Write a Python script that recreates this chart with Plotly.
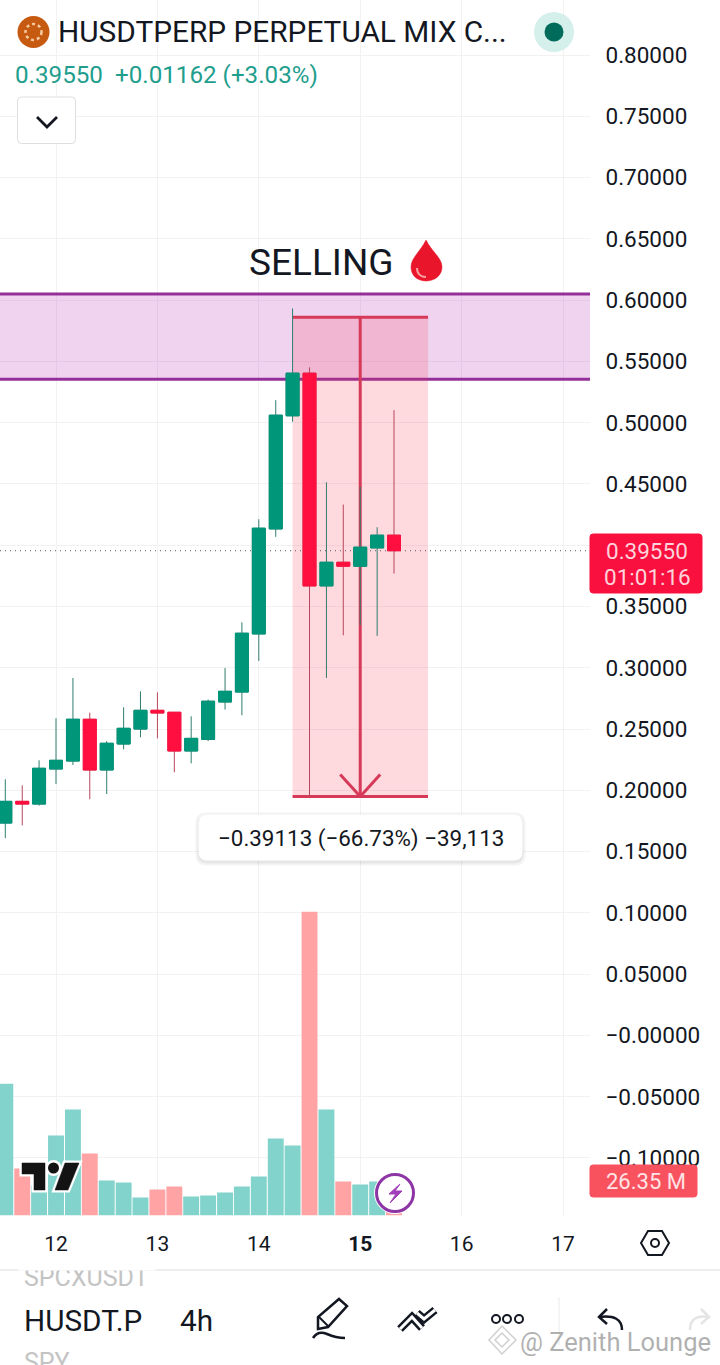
import plotly.graph_objects as go

W = 720
H = 1365

# 4h bars, x is in days of the month
bar_day = [11.5, 11.667, 11.833, 12, 12.167, 12.333, 12.5, 12.667, 12.833, 13, 13.167, 13.333,
           13.5, 13.667, 13.833, 14, 14.167, 14.333, 14.5, 14.667, 14.833, 15, 15.167, 15.333]
bar_open = [.1733, .1910, .1888, .2174, .2239, .2580, .2166, .2378, .2500, .2653, .2637, .2321,
            .2416, .2721, .2802, .3276, .4133, .5056, .5404, .3668, .3861, .3829, .3978, .4082]
bar_close = [.1910, .1888, .2180, .2245, .2580, .2166, .2384, .2506, .2653, .2631, .2321, .2424,
             .2727, .2808, .3282, .4139, .5061, .5404, .3668, .3861, .3829, .3984, .4082, .3955]
bar_high = [.2090, .2041, .2245, .2588, .2917, .2634, .2402, .2678, .2808, .2800, .2637, .2604,
            .2740, .2998, .3371, .4212, .5184, .5932, .5451, .4514, .4332, .4476, .4147, .5102]
bar_low = [.1610, .1714, .1875, .2051, .2207, .1927, .1970, .2335, .2433, .2424, .2147, .2220,
           .2402, .2659, .2612, .3056, .4068, .5007, .1943, .2917, .3265, .3347, .3260, .3769]
volume_m = [100.6, 35.9, 22.9, 61.1, 81.0, 47.4, 26.7, 25.2, 13.7, 19.9, 22.2, 14.5,
            15.3, 17.6, 22.2, 29.8, 58.8, 53.5, 232.0, 81.0, 26.0, 23.7, 26.0, 26.35]

price_ticks = [.8, .75, .7, .65, .6, .55, .5, .45, .4, .35, .3, .25, .2, .15, .1, .05, 0, -.05, -.1]
price_labels = ["0.80000", "0.75000", "0.70000", "0.65000", "0.60000", "0.55000", "0.50000",
                "0.45000", "", "0.35000", "0.30000", "0.25000", "0.20000", "0.15000", "0.10000",
                "0.05000", "\u22120.00000", "\u22120.05000", "\u22120.10000"]
day_ticks = [12, 13, 14, 15, 16, 17]
day_labels = ["12", "13", "14", "<b>15</b>", "16", "17"]

x_range = [11.4477, 17.266]
y_range = [-.14694, .84490]
zone_top = .605
zone_bottom = .5355
measure_top = .5861
measure_bottom = .1950
measure_left = 14.333
measure_right = 15.669
measure_mid = 15
last_price = .3955

GREEN = "#00967A"
RED = "#FF0F3F"
FONT = "Roboto"
INK = "#131722"


def px(x):
    return x / W


def py(y):
    return 1 - y / H


def pth(s):
    # pixel path -> paper path, only absolute M L C Q Z
    out = []
    is_x = True
    for tok in s.split():
        if tok.isalpha():
            out.append(tok)
        else:
            out.append(str(round(px(float(tok)) if is_x else py(float(tok)), 5)))
            is_x = not is_x
    return " ".join(out)


def rounded(x0, y0, x1, y1, r):
    return pth(f"M {x0+r} {y0} L {x1-r} {y0} Q {x1} {y0} {x1} {y0+r} L {x1} {y1-r} Q {x1} {y1} {x1-r} {y1} "
               f"L {x0+r} {y1} Q {x0} {y1} {x0} {y1-r} L {x0} {y0+r} Q {x0} {y0} {x0+r} {y0} Z")


shapes = []


def icon(s, color=INK, width=2.5, fill=None):
    shapes.append(dict(type="path", xref="paper", yref="paper", path=pth(s), fillcolor=fill,
                       line=dict(color=color, width=width)))


def box(x0, y0, x1, y1, r, fill, line=None, width=1, opacity=1):
    shapes.append(dict(type="path", xref="paper", yref="paper", path=rounded(x0, y0, x1, y1, r),
                       fillcolor=fill, opacity=opacity, line=dict(color=line or fill, width=width)))


def circle(cx, cy, r, fill=None, line=None, width=0, dash=None):
    shapes.append(dict(type="circle", xref="paper", yref="paper", x0=px(cx - r), x1=px(cx + r),
                       y0=py(cy + r), y1=py(cy - r), fillcolor=fill,
                       line=dict(color=line or "rgba(0,0,0,0)", width=width, dash=dash)))


notes = []


def note(x, y, text, size, color=INK, anchor="left", **kw):
    # annotations sit about 2px right of the x they are given
    if anchor == "left":
        x = x - 2
    notes.append(dict(xref="paper", yref="paper", x=px(x), y=py(y), text=text, showarrow=False,
                      xanchor=anchor, yanchor="middle", font=dict(family=FONT, size=size, color=color), **kw))


# chart drawings, in data coordinates, under the candles
def drawn(kind, x0, x1, y0, y1, **kw):
    shapes.append(dict(type=kind, xref="x", yref="y", x0=x0, x1=x1, y0=y0, y1=y1, layer="between", **kw))


drawn("rect", x_range[0], x_range[1], zone_bottom, zone_top,
      fillcolor="rgba(179,45,179,0.21)", line=dict(width=0))
for z in (zone_top, zone_bottom):
    drawn("line", x_range[0], x_range[1], z, z, line=dict(color="#93309A", width=3))
drawn("rect", measure_left, measure_right, measure_bottom, measure_top,
      fillcolor="rgba(248,50,80,0.18)", line=dict(width=0))
for m in (measure_top, measure_bottom):
    drawn("line", measure_left, measure_right, m, m, line=dict(color="#D63A58", width=3))
drawn("line", measure_mid, measure_mid, measure_bottom, measure_top, line=dict(color="#D63A58", width=3))
for side in (-.197, .197):
    drawn("line", measure_mid + side, measure_mid, measure_bottom + .018, measure_bottom,
          line=dict(color="#D63A58", width=3))
drawn("line", x_range[0], x_range[1], last_price, last_price, line=dict(color="#555555", width=1, dash="1px,4px"))

# header
circle(33.5, 32, 16, fill="#C65A11")
circle(33.5, 32, 8, line="#F6CBA2", width=2.5, dash="dot")
note(58, 31, "HUSDTPERP PERPETUAL MIX C...", 29.8)
circle(554, 32, 20, fill="#D5EFEB")
circle(554, 32, 9.5, fill="#006B5A")
note(15, 75, "0.39550&#160;&#160;+0.01162 (+3.03%)", 24.2, color="#1F9E8E")
box(17.5, 97, 75.5, 143.5, 4, "#FFFFFF", line="#DEDEDE")
icon("M 37 117 L 47 127 L 57 117", width=2.8)

# SELLING and the drop
note(321, 262, "SELLING", 37, anchor="center")
icon("M 426 240 C 420 252 411 258 411 267 C 411 276 418 281 426 281 C 434 281 442 276 442 267 C 442 258 432 252 426 240 Z",
     color="#E8152B", width=0.5, fill="#E8152B")
icon("M 417 268 C 417 274 421 277 426 277", color="#F9A0A0", width=2)

# measure label
box(196, 813, 525, 865, 10, "#000000", opacity=0.04)
box(198, 815, 523, 863, 9, "#000000", opacity=0.05)
box(199, 815, 522, 860, 8, "#FFFFFF")
note(360.5, 838, "\u22120.39113 (\u221266.73%) \u221239,113", 22.4, anchor="center")

# price tags on the axis
box(590, 534, 702, 593, 3, "#F9103F")
note(647, 551, "0.39550", 22.5, color="#FFD3DB", anchor="center")
note(647, 577, "01:01:16", 22.5, color="#FFD3DB", anchor="center")
box(590, 1165, 697, 1197, 3, "#F9525F")
note(646, 1181, "26.35 M", 22, color="#FFE3E5", anchor="center")

# TradingView mark
icon("M 22 1163 L 45 1163 L 45 1190 L 34 1190 L 34 1174 L 22 1174 Z", color="#FFFFFF", width=5, fill="#FFFFFF")
icon("M 65 1163 L 79 1163 L 68 1190 L 55 1190 Z", color="#FFFFFF", width=5, fill="#FFFFFF")
circle(53.5, 1168, 8, fill="#FFFFFF")
icon("M 22 1163 L 45 1163 L 45 1190 L 34 1190 L 34 1174 L 22 1174 Z", color="#131313", width=0.5, fill="#131313")
icon("M 65 1163 L 79 1163 L 68 1190 L 55 1190 Z", color="#131313", width=0.5, fill="#131313")
circle(53.5, 1168, 5.5, fill="#131313")

# lightning badge
circle(395, 1193, 21, fill="#FFFFFF")
circle(395, 1193, 18.5, fill="#FFFFFF", line="#8E35A5", width=3)
icon("M 400 1184 L 389 1194 L 396 1194 L 390 1203 L 402 1191 L 395 1191 Z", color="#A23DBB", width=1, fill="#A23DBB")

# settings hexagon
icon("M 641 1243 L 648 1231 L 662 1231 L 669 1243 L 662 1255 L 648 1255 Z", width=2)
circle(655, 1243, 4, line=INK, width=2)

# bottom toolbar
shapes.append(dict(type="line", xref="paper", yref="paper", x0=0, x1=1, y0=py(1270), y1=py(1270),
                   line=dict(color="#EEEEEE", width=2)))
note(24, 1277, "SPCXUSDT", 25, color="#C4C4C4")
# the list behind the toolbar is cut at the divider and at 148px
note(20, 1265, " ", 6, width=134, height=8, bgcolor="#FFFFFF")
note(148, 1281, " ", 12, width=30, height=16, bgcolor="#FFFFFF")
note(24, 1320, "HUSDT.P", 29.7)
note(180, 1320, "4h", 29.7)
note(24, 1362, "SPY", 25, color="#C4C4C4")
icon("M 318 1329 L 318 1317 L 339 1299 L 347 1306 L 328 1327 Z", width=2.5)
icon("M 319 1317 L 328 1326", width=2)
icon("M 313 1338 Q 318 1330 327 1334 Q 336 1338 345 1338", width=2.5)
for seg in ("M 400 1329 L 412 1317 L 422 1328", "M 417 1313 L 424 1319 L 435 1310"):
    icon(seg, width=8)
    icon(seg, color="#FFFFFF", width=3)
for c in (496, 507, 519):
    circle(c, 1319, 4, line=INK, width=2)
shapes.append(dict(type="line", xref="paper", yref="paper", x0=px(559), x1=px(559), y0=py(1297), y1=py(1345),
                   line=dict(color="#EBEBEB", width=1)))
icon("M 607 1309 L 599 1317 L 607 1324", width=2.5)
icon("M 599 1317 Q 622 1314 622 1330", width=2.5)
icon("M 701 1309 L 709 1317 L 701 1324", color="#E4E4E4", width=2.5)
icon("M 709 1317 Q 690 1314 690 1330", color="#E4E4E4", width=2.5)

# watermark
icon("M 502 1326 L 516 1340 L 502 1354 L 489 1340 Z", color="#D0D0D0", width=1.5)
icon("M 495 1340 L 502 1333 L 509 1340 L 502 1347 Z", color="#D0D0D0", width=1.5)
note(520, 1342, "@ Zenith Lounge", 25.5, color="rgba(150,150,150,0.75)")

vol_colors = ["#82D3CB" if c >= o else "#FFA3A5" for o, c in zip(bar_open, bar_close)]

fig = go.Figure()
fig.add_trace(go.Bar(x=bar_day, y=volume_m, yaxis="y2", width=0.157, marker=dict(color=vol_colors, line=dict(width=0)),
                     hoverinfo="skip", showlegend=False))
# thin wicks first, then the bodies on top in the brighter colour
fig.add_trace(go.Candlestick(x=bar_day, open=bar_open, high=bar_high, low=bar_low, close=bar_close,
                             whiskerwidth=0, showlegend=False, hoverinfo="skip",
                             increasing=dict(line=dict(color="#2F7D6E", width=1), fillcolor=GREEN),
                             decreasing=dict(line=dict(color="#B8465C", width=1), fillcolor=RED)))
fig.add_trace(go.Candlestick(x=bar_day, open=bar_open, close=bar_close,
                             high=[max(o, c) for o, c in zip(bar_open, bar_close)],
                             low=[min(o, c) for o, c in zip(bar_open, bar_close)],
                             whiskerwidth=0, showlegend=False, hoverinfo="skip",
                             increasing=dict(line=dict(color=GREEN, width=1), fillcolor=GREEN),
                             decreasing=dict(line=dict(color=RED, width=1), fillcolor=RED)))

fig.update_layout(
    width=W, height=H, margin=dict(l=0, r=0, t=0, b=0), paper_bgcolor="#FFFFFF", plot_bgcolor="#FFFFFF",
    boxgap=0.23, boxgroupgap=0, shapes=shapes, annotations=notes, showlegend=False,
    font=dict(family=FONT, color=INK),
    xaxis=dict(domain=[0, 590 / W], range=x_range, tickvals=day_ticks, ticktext=day_labels,
               rangeslider=dict(visible=False), showgrid=True, gridcolor="#F2F2F3", gridwidth=1, zeroline=False,
               ticks="outside", ticklen=9, tickcolor="rgba(0,0,0,0)", tickfont=dict(size=21, color=INK),
               showline=False),
    yaxis=dict(domain=[1 - 1215.5 / H, 1], range=y_range, side="right", tickvals=price_ticks,
               ticktext=price_labels, showgrid=True, gridcolor="#F2F2F3", gridwidth=1, zeroline=False,
               ticks="outside", ticklen=10, tickcolor="rgba(0,0,0,0)", tickfont=dict(size=22.5, color=INK),
               showline=False),
    yaxis2=dict(domain=[1 - 1215.5 / H, 1], range=[0, 928], overlaying="y", side="right", visible=False),
)

fig.write_html("out.html", config={"displayModeBar": False}, post_script="document.body.style.margin='0';")
